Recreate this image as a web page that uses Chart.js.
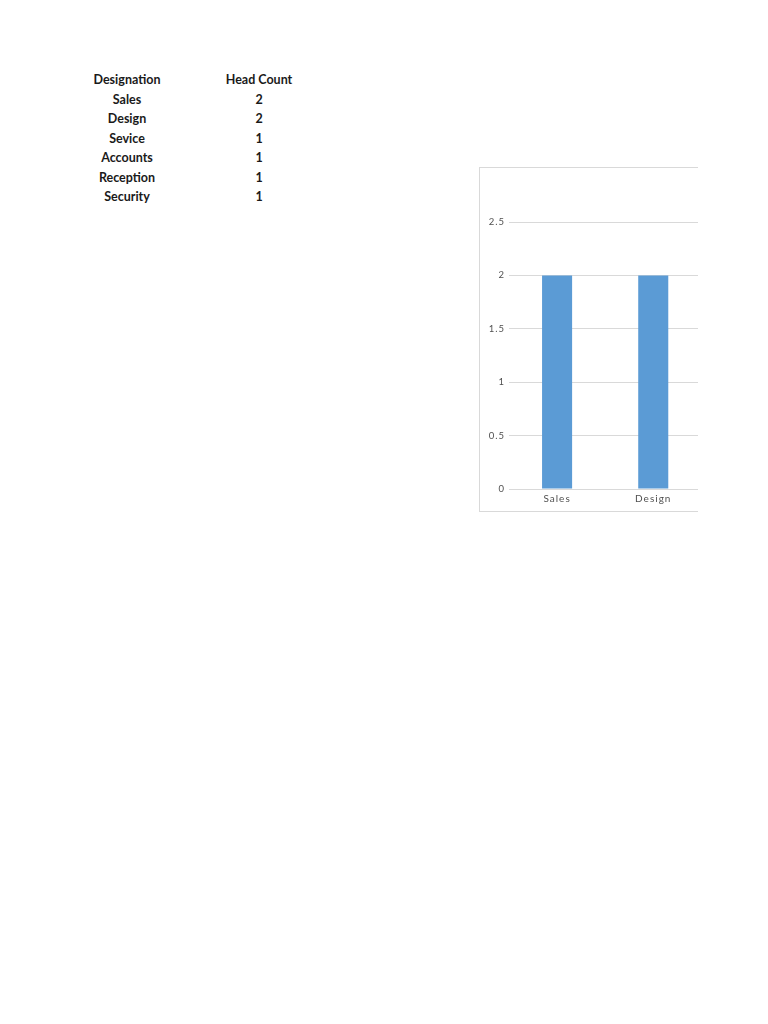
<!DOCTYPE html>
<html>
<head>
<meta charset="utf-8">
<script src="https://cdn.jsdelivr.net/npm/chart.js@4.4.1/dist/chart.umd.min.js"></script>
<style>
  body { margin: 0; background: #fff; width: 768px; height: 1024px; position: relative; overflow: hidden; }
  #sheet { position: absolute; left: 60px; top: 70px; border-collapse: collapse; font-family: Lato, "Liberation Sans", sans-serif; font-weight: bold; font-size: 12.5px; color: #1a1a1a; }
  #sheet td { height: 19.5px; padding: 0; text-align: center; }
  #sheet td.c1 { width: 134px; }
  #sheet td.c2 { width: 130px; }
  #chartBox { position: absolute; left: 479px; top: 167px; width: 218px; height: 343px; overflow: hidden;
    border-left: 1px solid #d9d9d9; border-top: 1px solid #d9d9d9; border-bottom: 1px solid #d9d9d9; }
  #chartInner { position: absolute; left: 0; top: 0; width: 640px; height: 343px; }
</style>
</head>
<body>
<table id="sheet"><tbody id="sheetBody"></tbody></table>
<div id="chartBox"><div id="chartInner"><canvas id="barChart"></canvas></div></div>
<script>
const headers = ["Designation", "Head Count"];
const designations = ["Sales", "Design", "Sevice", "Accounts", "Reception", "Security"];
const headCounts = [2, 2, 1, 1, 1, 1];
const yTicks = [0, 0.5, 1, 1.5, 2, 2.5];

// spreadsheet block
let body = document.getElementById("sheetBody");
let rows = [headers].concat(designations.map((d, i) => [d, String(headCounts[i])]));
rows.forEach(r => {
    let tr = document.createElement("tr");
    r.forEach((v, j) => {
        let td = document.createElement("td");
        td.className = j === 0 ? "c1" : "c2";
        td.textContent = v;
        tr.appendChild(td);
    });
    body.appendChild(tr);
});

const spacing = {
    id: "spacing",
    beforeDraw(chart) { chart.ctx.letterSpacing = "1px"; }
};

function drawBarChart() {
    "use strict";
    let ctx = document.getElementById("barChart");
    new Chart(ctx, {
        type: 'bar',
        data: {
            labels: designations,
            datasets: [{
                label: 'Head Count',
                backgroundColor: "#5b9bd5",
                data: headCounts,
                categoryPercentage: 1,
                barPercentage: 0.3125
            }]
        },
        options: {
            responsive: true,
            maintainAspectRatio: false,
            animation: false,
            layout: { padding: { top: 54, right: 34, bottom: 0, left: 0 } },
            plugins: { legend: { display: false }, tooltip: { enabled: false } },
            scales: {
                x: {
                    grid: { display: false, drawTicks: false },
                    border: { color: "#d9d9d9" },
                    ticks: { color: "#505050", font: { family: "Lato", size: 10 }, padding: 4 },
                    afterFit: s => { s.height = 22; }
                },
                y: {
                    min: 0,
                    max: 2.5,
                    grid: { color: "#d9d9d9", drawTicks: false },
                    border: { display: false },
                    ticks: { color: "#505050", font: { family: "Lato", size: 9.5 }, padding: 4,
                             callback: v => String(v) },
                    afterBuildTicks: s => { s.ticks = yTicks.map(v => ({ value: v })); },
                    afterFit: s => { s.width = 29; }
                }
            }
        },
        plugins: [spacing]
    });
}
drawBarChart();
</script>
</body>
</html>
